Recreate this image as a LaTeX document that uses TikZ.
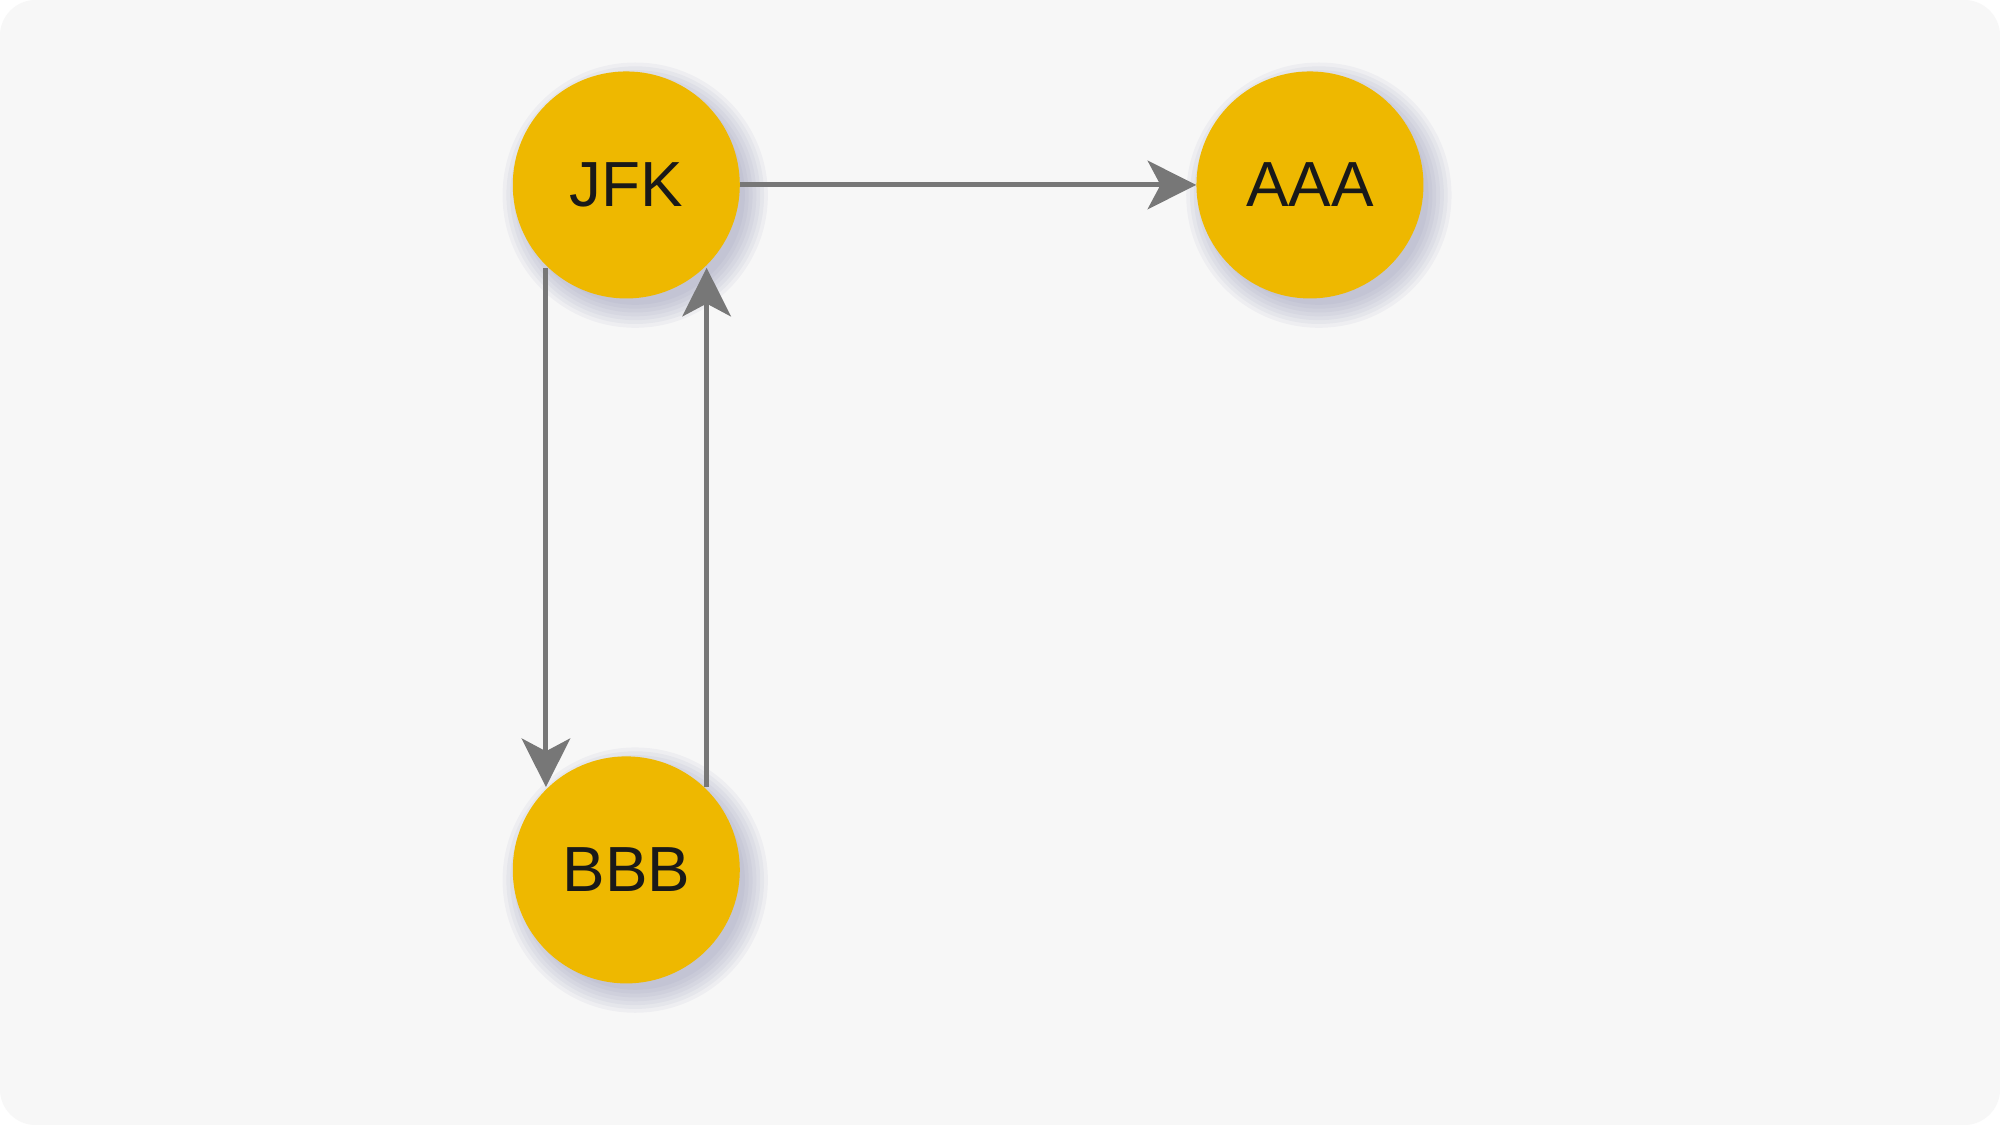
\documentclass[tikz,border=0pt]{standalone}
\usepackage{fontspec}
\setmainfont{Liberation Sans}
\usetikzlibrary{arrows.meta}
\definecolor{bg}{HTML}{F7F7F7}
\definecolor{gold}{HTML}{EEB800}
\definecolor{arr}{HTML}{777777}
\definecolor{shd}{HTML}{7A80A8}
\begin{document}
\begin{tikzpicture}[x=1pt,y=-1pt,
  city/.style={circle,fill=gold,minimum size=178pt,inner sep=0pt,
    font=\fontsize{50}{60}\selectfont,text=black!90},
  link/.style={draw=arr,line width=4pt,-{Stealth[length=38pt,width=38pt,inset=10pt]}}]
\useasboundingbox (0,0) rectangle (1568,882);
\fill[white] (0,0) rectangle (1568,882);
\fill[bg,rounded corners=28pt] (0,0) rectangle (1568,882);
\foreach \cx/\cy in {491/145,1027/145,491/682}{
  \foreach \r in {104,101,...,86}{
    \fill[shd,opacity=0.07] (\cx+7,\cy+8) circle (\r);
  }
}
\node[city] (jfk) at (491,145) {JFK};
\node[city] (aaa) at (1027,145) {AAA};
\node[city] (bbb) at (491,682) {BBB};
\coordinate (d1) at (428,210);
\coordinate (d2) at (428,617);
\coordinate (u1) at (554,617);
\coordinate (u2) at (554,210);
\draw[link] (jfk.east) -- (aaa.west);
\draw[link] (d1) -- (d2);
\draw[link] (u1) -- (u2);
\end{tikzpicture}
\end{document}
